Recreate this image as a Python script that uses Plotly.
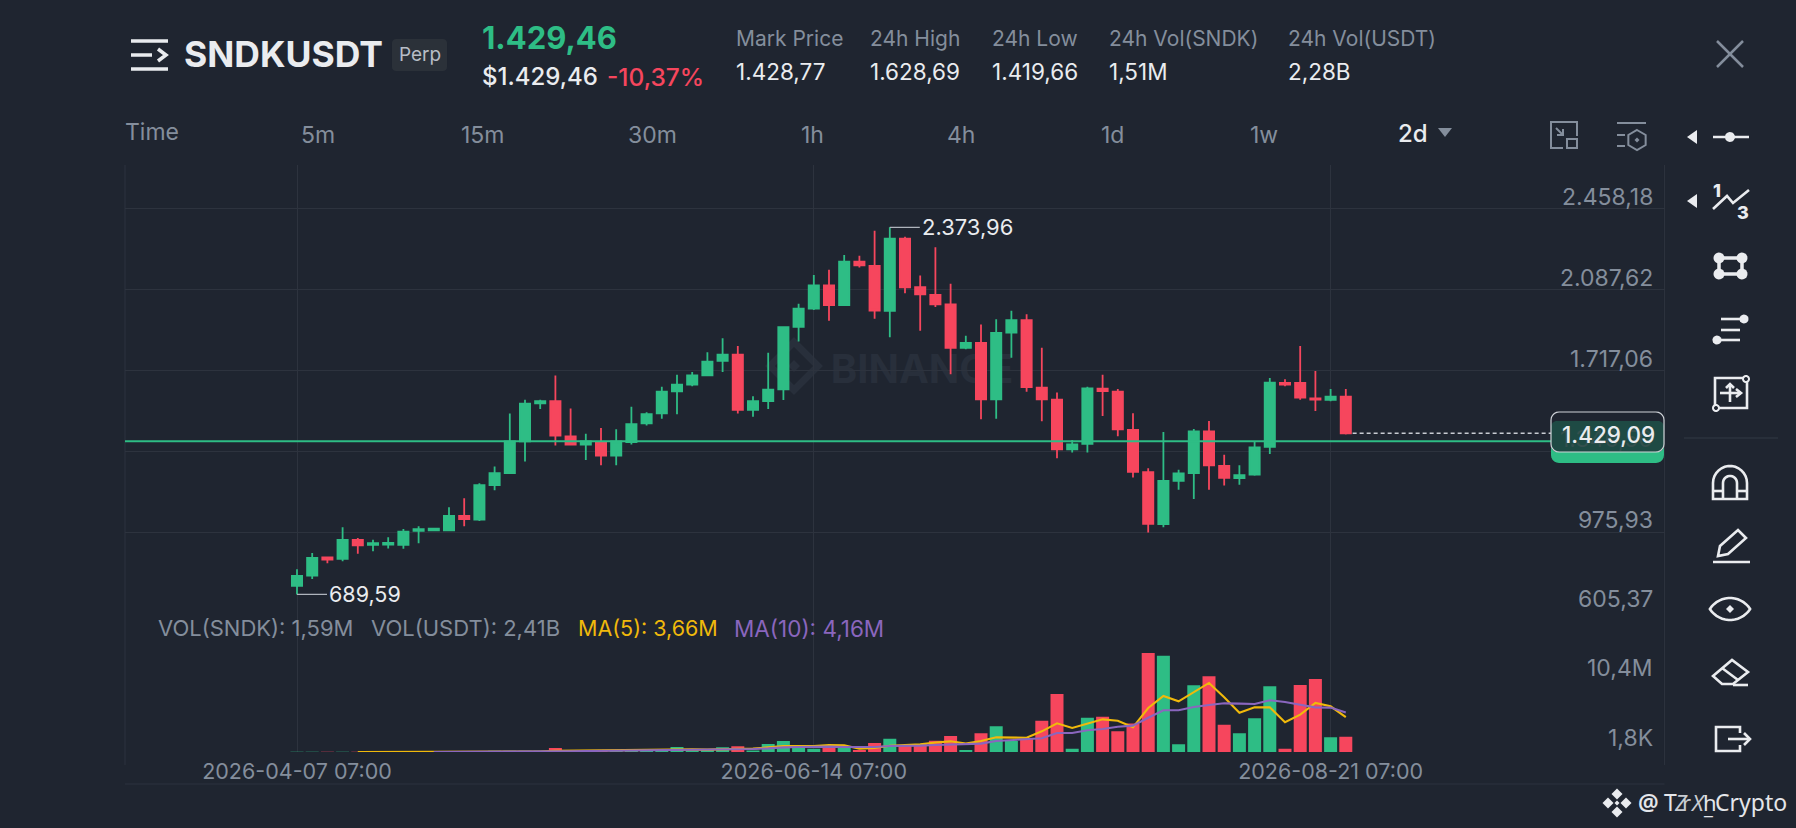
import numpy as np
import pandas as pd
import plotly.graph_objs as go

W = 1796
H = 828
BG = '#1f2530'
GREEN = '#2EBD85'
RED = '#F6465D'
GREY = '#848E9C'
LIGHT = '#EAECEF'
GRID = '#2d333e'
YELLOW = '#F0B90B'
PURPLE = '#8A66BE'
FONT = 'Inter'

# 2d candles
opens = [728.5, 776, 859, 853, 940, 917, 918, 917, 981, 984,
         984, 1050, 1033, 1191, 1246, 1392, 1566, 1577, 1415, 1377,
         1387, 1327, 1389, 1475, 1520, 1621, 1652, 1695, 1761, 1790,
         1537, 1577, 1631, 1917, 2001, 2107, 2017, 2217, 2197, 1991,
         2322, 2099, 2064, 2020, 1821, 1844, 1585, 1891, 1948, 1638,
         1583, 1355, 1380, 1634, 1620, 1444, 1251, 1012, 1211, 1246,
         1438, 1279, 1223, 1240, 1367, 1660, 1660, 1589, 1582, 1597]
highs = [805, 880, 863, 998, 948, 940, 952, 990, 1003, 994,
         1090, 1131, 1200, 1277, 1520, 1583, 1583, 1694, 1543, 1427,
         1453, 1448, 1551, 1525, 1643, 1698, 1710, 1801, 1865, 1830,
         1599, 1799, 1920, 2023, 2155, 2179, 2247, 2243, 2358, 2373.96,
         2331, 2153, 2283, 2115, 1877, 1928, 1952, 1991, 1975, 1821,
         1616, 1398, 1642, 1698, 1632, 1521, 1269, 1435, 1262, 1449,
         1485, 1331, 1282, 1389, 1683, 1677, 1830, 1715, 1632, 1632]
lows = [689.59, 761, 833, 842, 876, 888, 900, 899, 925, 983,
        983, 1003, 1027, 1168, 1245, 1300, 1540, 1373, 1375, 1306,
        1282, 1282, 1377, 1465, 1496, 1516, 1645, 1692, 1710, 1520,
        1505, 1540, 1582, 1850, 1995, 1945, 2014, 2190, 1955, 1870,
        2072, 1899, 2008, 1700, 1815, 1493, 1496, 1776, 1620, 1484,
        1314, 1341, 1341, 1508, 1415, 1226, 974, 998, 1170, 1127,
        1170, 1190, 1193, 1234, 1334, 1645, 1583, 1531, 1576, 1423]
closes = [774.5, 857, 850, 940, 915, 925, 926, 978, 989, 992,
          1050, 1035, 1191, 1246, 1392, 1565, 1577, 1418, 1377, 1392,
          1327, 1392, 1471, 1517, 1620, 1652, 1695, 1758, 1790, 1537,
          1577, 1629, 1916, 2001, 2107, 2017, 2216, 2199, 1992, 2322,
          2099, 2066, 2020, 1821, 1844, 1585, 1890, 1948, 1641, 1585,
          1355, 1378, 1635, 1622, 1447, 1252, 1014, 1210, 1245, 1438,
          1282, 1225, 1237, 1364, 1661, 1652, 1593, 1583, 1597, 1429.09]

# volume in millions
volumes = [0.0018, 0.003, 0.002, 0.004, 0.003, 0.003, 0.002, 0.005, 0.004, 0.003,
           0.01, 0.012, 0.02, 0.03, 0.06, 0.08, 0.03, 0.42, 0.1, 0.12,
           0.2, 0.2, 0.2, 0.05, 0.05, 0.52, 0.1, 0.2, 0.49, 0.6,
           0.15, 0.84, 1.16, 0.7, 0.35, 0.63, 0.49, 0.2, 0.95, 1.4,
           0.7, 0.84, 1.19, 1.68, 0.2, 1.96, 2.7, 1.16, 1.33, 3.29,
           6.09, 0.35, 3.6, 3.71, 2.17, 2.98, 10.4, 10.1, 0.81, 7.0,
           7.95, 2.87, 1.96, 3.54, 6.9, 0.35, 7.04, 7.67, 1.54, 1.59]
ma5 = [None, None, None, None,
       .004, .004, .004, .004, .004, .005, .006, .008, .012, .02, .03, .05, .06, .12, .14, .16,
       .2, .2, .22, .26, .3, .28, .28, .25, .3, .37,
       .35, .49, .63, .63, .63, .74, .7, .35, .42, .66,
       .7, .8, 1.0, 1.12, .88, 1.16, 1.54, 1.54, 1.5, 2.17,
       3.01, 2.52, 3.01, 3.43, 3.29, 2.59, 4.62, 5.88, 5.32, 6.3,
       7.25, 5.74, 4.13, 4.69, 4.69, 3.12, 3.92, 5.15, 4.8, 3.66]
ma10 = [None, None, None, None, None, None, None, None, None,
        .005, .006, .006, .007, .009, .015, .02, .05, .06, .07, .1,
        .12, .14, .16, .17, .19, .2, .2, .22, .23, .28,
        .31, .38, .49, .52, .56, .56, .52, .49, .52, .63,
        .63, .67, .74, .8, .8, .88, 1.16, 1.26, 1.3, 1.44,
        2.0, 2.0, 2.28, 2.42, 2.66, 2.77, 3.6, 4.38, 4.38, 4.73,
        4.94, 5.11, 5.08, 5.04, 5.43, 5.25, 4.97, 4.69, 4.66, 4.16]

dates = pd.date_range('2026-04-07 07:00', periods=len(opens), freq='2D')
date_ticks = ['2026-04-07 07:00', '2026-06-14 07:00', '2026-08-21 07:00']

price_ticks = [2458.18, 2087.62, 1717.06, 1346.50, 975.93, 605.37]
price_labels = ['2.458,18', '2.087,62', '1.717,06', '1.346,50', '975,93', '605,37']
level_line = 1392
last_price = 1429.09

stat_names = ['Mark Price', '24h High', '24h Low', '24h Vol(SNDK)', '24h Vol(USDT)']
stat_values = ['1.428,77', '1.628,69', '1.419,66', '1,51M', '2,28B']
stat_x = [736, 870, 992, 1109, 1288]
tabs = ['5m', '15m', '30m', '1h', '4h', '1d', '1w']
tab_x = [318, 482, 652, 812, 961, 1112, 1264]


def X(px):
    return px / W


def Y(py):
    return 1 - py / H


annotations = []
shapes = []


def text(px, py, s, size=21, color=LIGHT, anchor='left', weight=400, family=FONT, vanchor='middle', style='normal'):
    if anchor == 'left':
        px = px - 2
    annotations.append(dict(x=X(px), y=Y(py), xref='paper', yref='paper', text=s, showarrow=False,
                            xanchor=anchor, yanchor=vanchor,
                            font=dict(family=family, size=size, color=color, weight=weight, style=style)))


def path(points, color=LIGHT, width=2.6, fill=None, close=False, layer='above'):
    d = 'M ' + ' L '.join('%.5f %.5f' % (X(p[0]), Y(p[1])) for p in points)
    if close:
        d += ' Z'
    shapes.append(dict(type='path', path=d, xref='paper', yref='paper', layer=layer,
                       line=dict(color=color, width=width), fillcolor=fill))


def arc(cx, cy, r, a0, a1, n=16):
    t = np.radians(np.linspace(a0, a1, n))
    return list(zip(cx + r * np.cos(t), cy + r * np.sin(t)))


def dot(cx, cy, r, color=LIGHT, fill=LIGHT, width=0):
    path(arc(cx, cy, r, 0, 360, 20), color=color, width=width, fill=fill, close=True)


def rrect(x0, y0, x1, y1, r=7, **kw):
    pts = (arc(x0 + r, y0 + r, r, 180, 270, 6) + arc(x1 - r, y0 + r, r, 270, 360, 6)
           + arc(x1 - r, y1 - r, r, 0, 90, 6) + arc(x0 + r, y1 - r, r, 90, 180, 6))
    path(pts, close=True, **kw)


def diamond(cx, cy, r, **kw):
    path([(cx - r, cy), (cx, cy - r), (cx + r, cy), (cx, cy + r)], close=True, **kw)


# header
path([(131, 41), (168, 41)], width=3.5)
path([(131, 55), (152, 55)], width=3.5)
path([(158, 49), (166, 55), (158, 61)], width=3.5)
path([(131, 69), (168, 69)], width=3.5)
text(184, 55, 'SNDKUSDT', size=35.5, weight=700)
rrect(392, 39, 447, 71, r=4, color='#2b3139', width=0, fill='#2b3139')
text(419.5, 55, 'Perp', size=19, color='#B7BDC6', anchor='center')
text(482, 38, '1.429,46', size=31, color=GREEN, weight=700)
text(482, 77, '$1.429,46', size=24, weight=500)
text(607, 77, '-10,37%', size=24.5, color=RED, weight=500)
for name, value, sx in zip(stat_names, stat_values, stat_x):
    text(sx, 39, name, size=21, color=GREY)
    text(sx, 72, value, size=22.5)
path([(1717, 41), (1743, 67)], color=GREY, width=2.5)
path([(1743, 41), (1717, 67)], color=GREY, width=2.5)

# interval tabs
text(125, 132, 'Time', size=23, color=GREY)
for t, tx in zip(tabs, tab_x):
    text(tx, 135, t, size=23, color=GREY, anchor='center')
text(1413, 133, '2d', size=24, anchor='center', weight=500)
path([(1438, 128), (1452, 128), (1445, 137)], color=GREY, width=0, fill=GREY, close=True)

# small chart icons
path([(1577, 136), (1577, 122), (1551, 122), (1551, 148), (1563, 148)], color=GREY, width=2)
path([(1567, 139), (1577, 139), (1577, 148), (1567, 148)], color=GREY, width=2, close=True)
path([(1556, 128), (1563, 135)], color=GREY, width=2)
path([(1563, 129), (1563, 135), (1557, 135)], color=GREY, width=2)
path([(1617, 123), (1646, 123)], color=GREY, width=2)
path([(1617, 135), (1625, 135)], color=GREY, width=2)
path([(1617, 146), (1625, 146)], color=GREY, width=2)
path(arc(1637, 140, 10, -90, 270, 7), color=GREY, width=2, close=True)
diamond(1637, 140, 2.5, color=GREY, width=0, fill=GREY)

# right toolbar
for ty in [137, 201]:
    path([(1697, ty - 7), (1697, ty + 7), (1687, ty)], width=0, fill=LIGHT, close=True)
path([(1713, 137), (1749, 137)])
dot(1730, 137, 5)
path([(1713, 209), (1727, 196), (1733, 203), (1749, 190)])
text(1717, 190, '1', size=18, anchor='center', weight=800)
text(1743, 212, '3', size=18, anchor='center', weight=800)
path([(1719, 258), (1742, 258), (1742, 274), (1719, 274)], close=True, width=3.5)
for cx in [1719, 1742]:
    for cy in [258, 274]:
        dot(cx, cy, 5.5)
path([(1721, 319), (1740, 319)])
dot(1744, 319, 4.5)
path([(1721, 330), (1740, 330)])
path([(1721, 340), (1740, 340)])
dot(1717, 340, 4.5)
path([(1715, 378), (1747, 378), (1747, 408), (1715, 408)], close=True)
dot(1746, 379, 3, fill=BG, width=2)
dot(1716, 408, 3, fill=BG, width=2)
path([(1730, 384), (1730, 402)])
path([(1720, 393), (1741, 393)])
path([(1736, 389), (1741, 393), (1736, 397)])
path([(1726, 388), (1730, 384), (1734, 388)])
path([(1684, 438), (1778, 438)], color=GRID, width=1.5)
path(arc(1730, 483, 17, 180, 360) + [(1747, 499), (1713, 499)], close=True)
path([(1723, 499)] + arc(1730, 483, 7, 180, 360) + [(1737, 499)])
path([(1713, 491), (1723, 491)])
path([(1737, 491), (1747, 491)])
path([(1718, 556), (1720, 546), (1738, 530), (1746, 538), (1728, 554)], close=True)
path([(1713, 562), (1750, 562)])
path(arc(1730, 622, 24, 213, 327) + arc(1730, 596, 24, 33, 147), close=True)
diamond(1730, 609, 4, width=0, fill=LIGHT)
path([(1713, 676), (1732, 660), (1748, 672), (1733, 684), (1722, 684)], close=True)
path([(1722, 668), (1738, 680)])
path([(1733, 685), (1748, 685)])
path([(1740, 733), (1740, 727), (1716, 727), (1716, 751), (1740, 751), (1740, 745)])
path([(1728, 739), (1750, 739)])
path([(1744, 733), (1750, 739), (1744, 745)])

# frame lines of the chart
path([(125, 165), (125, 765)], color=GRID, width=1, layer='below')
path([(1664.5, 165), (1664.5, 765)], color=GRID, width=1, layer='below')
path([(125, 784), (1664.5, 784)], color=GRID, width=1, layer='below')

# faint logo behind the candles
path([(794, 342), (818, 366), (794, 390), (770, 366)], color='#282f3b', width=7, close=True, layer='below')
diamond(794, 366, 6, color='#282f3b', width=0, fill='#282f3b', layer='below')
shapes.append(dict(type='rect', xref='paper', yref='paper', layer='below', x0=X(824), x1=X(1020), y0=Y(390), y1=Y(345),
                   line=dict(width=0), label=dict(text='BINANCE', textposition='middle center',
                                                  font=dict(family=FONT, size=40, color='#282f3b', weight=700))))

# price labels sit on top of their grid lines
for val, lab in zip(price_ticks, price_labels):
    col = '#33504e' if val == 1346.50 else GREY
    shift = -2 if val == 605.37 else -4
    annotations.append(dict(x=X(1655), xref='paper', y=val, yref='y', text=lab, showarrow=False, xanchor='right',
                            yanchor='bottom', yshift=shift, font=dict(family=FONT, size=23, color=col)))
annotations.append(dict(x=X(1655), xref='paper', y=10.4, yref='y2', text='10,4M', showarrow=False, xanchor='right',
                        yanchor='top', yshift=1, font=dict(family=FONT, size=23, color=GREY)))
annotations.append(dict(x=X(1655), xref='paper', y=0.0018, yref='y2', text='1,8K', showarrow=False, xanchor='right',
                        yanchor='bottom', yshift=-2, font=dict(family=FONT, size=23, color=GREY)))

# last price tag
rrect(1551, 421, 1664, 463, r=8, color=GREEN, width=0, fill=GREEN)
rrect(1551, 421, 1664, 452, r=6, color='#1e4a44', width=0, fill='#1e4a44')
rrect(1551, 412, 1664, 452, r=8, color='#cfd3d8', width=1.2)
text(1608.5, 434, '1.429,09', size=22.5, anchor='center', weight=500)

# high / low markers
annotations.append(dict(x=dates[39], y=highs[39], xref='x', yref='y', text='2.373,96', ax=30, ay=0,
                        xanchor='left', arrowhead=0, arrowwidth=1.2, arrowcolor='#aeb4bc', standoff=0,
                        font=dict(family=FONT, size=22, color=LIGHT)))
annotations.append(dict(x=dates[0], y=lows[0], xref='x', yref='y', text='689,59', ax=30, ay=0,
                        xanchor='left', arrowhead=0, arrowwidth=1.2, arrowcolor='#aeb4bc', standoff=0,
                        font=dict(family=FONT, size=21.5, color=LIGHT)))

# volume header
text(158, 628, 'VOL(SNDK): 1,59M', size=22, color=GREY)
text(371, 628, 'VOL(USDT): 2,41B', size=22, color=GREY)
text(578, 628, 'MA(5): 3,66M', size=21.5, color=YELLOW)
text(734, 628, 'MA(10): 4,16M', size=22.5, color=PURPLE)

# overlapping platform watermark
for dx, dy in [(0, -9), (0, 9), (-9, 0), (9, 0)]:
    diamond(1617 + dx, 803 + dy, 5.5, color=LIGHT, width=0, fill=LIGHT)
diamond(1617, 803, 2.5, color=LIGHT, width=0, fill=LIGHT)
wm_font = 'Noto Sans'
text(1638, 802, '@', size=23, color='#e4e6ea', family=wm_font, weight=600)
text(1664, 802, 'T', size=23, color='#e4e6ea', family=wm_font)
text(1674, 802, 'Z', size=22, color='#c8ccd2', family=wm_font, style='italic')
text(1682, 802, 'r', size=22, color='#c8ccd2', family=wm_font)
text(1690, 802, 'X', size=22, color='#c8ccd2', family=wm_font, style='italic')
text(1703, 802, 'h', size=22, color='#e4e6ea', family=wm_font)
text(1703, 806, '_', size=20, color='#e4e6ea', family=wm_font)
text(1715, 802, 'Crypto', size=23, color='#e4e6ea', family=wm_font)

bar_colors = [GREEN if c >= o else RED for o, c in zip(opens, closes)]

candles = go.Candlestick(x=dates, open=opens, high=highs, low=lows, close=closes, xaxis='x', yaxis='y',
                         whiskerwidth=0, hoverinfo='none',
                         increasing=dict(line=dict(color=GREEN, width=1.8), fillcolor=GREEN),
                         decreasing=dict(line=dict(color=RED, width=1.8), fillcolor=RED))
level = go.Scatter(x=[dates[0] - pd.Timedelta(days=30), dates[-1] + pd.Timedelta(days=27)], y=[level_line, level_line],
                   mode='lines', line=dict(color=GREEN, width=2), xaxis='x', yaxis='y', hoverinfo='skip')
last = go.Scatter(x=[dates[-1] + pd.Timedelta(days=0.9), dates[-1] + pd.Timedelta(days=27)], y=[last_price, last_price],
                  mode='lines', line=dict(color='#c8ccd2', width=1.4, dash='4px,3px'), xaxis='x', yaxis='y', hoverinfo='skip')
vol_bars = go.Bar(x=dates, y=volumes, marker=dict(color=bar_colors, line=dict(width=0)), xaxis='x', yaxis='y2', hoverinfo='none')
ma5_line = go.Scatter(x=dates, y=ma5, mode='lines', line=dict(color=YELLOW, width=2.1), xaxis='x', yaxis='y2', hoverinfo='skip')
ma10_line = go.Scatter(x=dates, y=ma10, mode='lines', line=dict(color=PURPLE, width=2.1), xaxis='x', yaxis='y2', hoverinfo='skip')

# one candle is 15.2 px wide, the first one centred at px 297
x_start = dates[0] + pd.Timedelta(days=(125 - 297) / 15.2 * 2)
x_end = dates[0] + pd.Timedelta(days=(1664.5 - 297) / 15.2 * 2)

layout = go.Layout(
    width=W, height=H, margin=dict(l=0, r=0, t=0, b=0), autosize=False, showlegend=False,
    paper_bgcolor=BG, plot_bgcolor=BG, boxgap=0.04, bargap=0.145,
    xaxis=dict(domain=[X(125), X(1664.5)], range=[x_start, x_end], anchor='y2', type='date', rangeslider=dict(visible=False),
               tickmode='array', tickvals=date_ticks, ticktext=date_ticks, showgrid=True, gridcolor=GRID, gridwidth=1,
               tickfont=dict(family=FONT, size=21.5, color=GREY), ticks='', showline=False, zeroline=False, ticklabelstandoff=4),
    yaxis=dict(domain=[Y(612.8), Y(165)], range=[605.37, 2458.18 + (208.9 - 165) * 4.595], anchor='x',
               tickmode='array', tickvals=price_ticks, showticklabels=False, showgrid=True, gridcolor=GRID, gridwidth=1,
               zeroline=False),
    yaxis2=dict(domain=[Y(752), Y(612.8)], range=[0, (752 - 612.8) * 0.105], anchor='x',
                tickmode='array', tickvals=[0.0018], showticklabels=False, showgrid=True, gridcolor=GRID, gridwidth=1,
                zeroline=False),
    annotations=annotations, shapes=shapes,
)

fig = go.Figure(data=[candles, level, last, vol_bars, ma5_line, ma10_line], layout=layout)
fig.write_html("out.html", config={'displayModeBar': False},
               post_script="document.body.style.margin='0';document.body.style.background='%s';" % BG)
